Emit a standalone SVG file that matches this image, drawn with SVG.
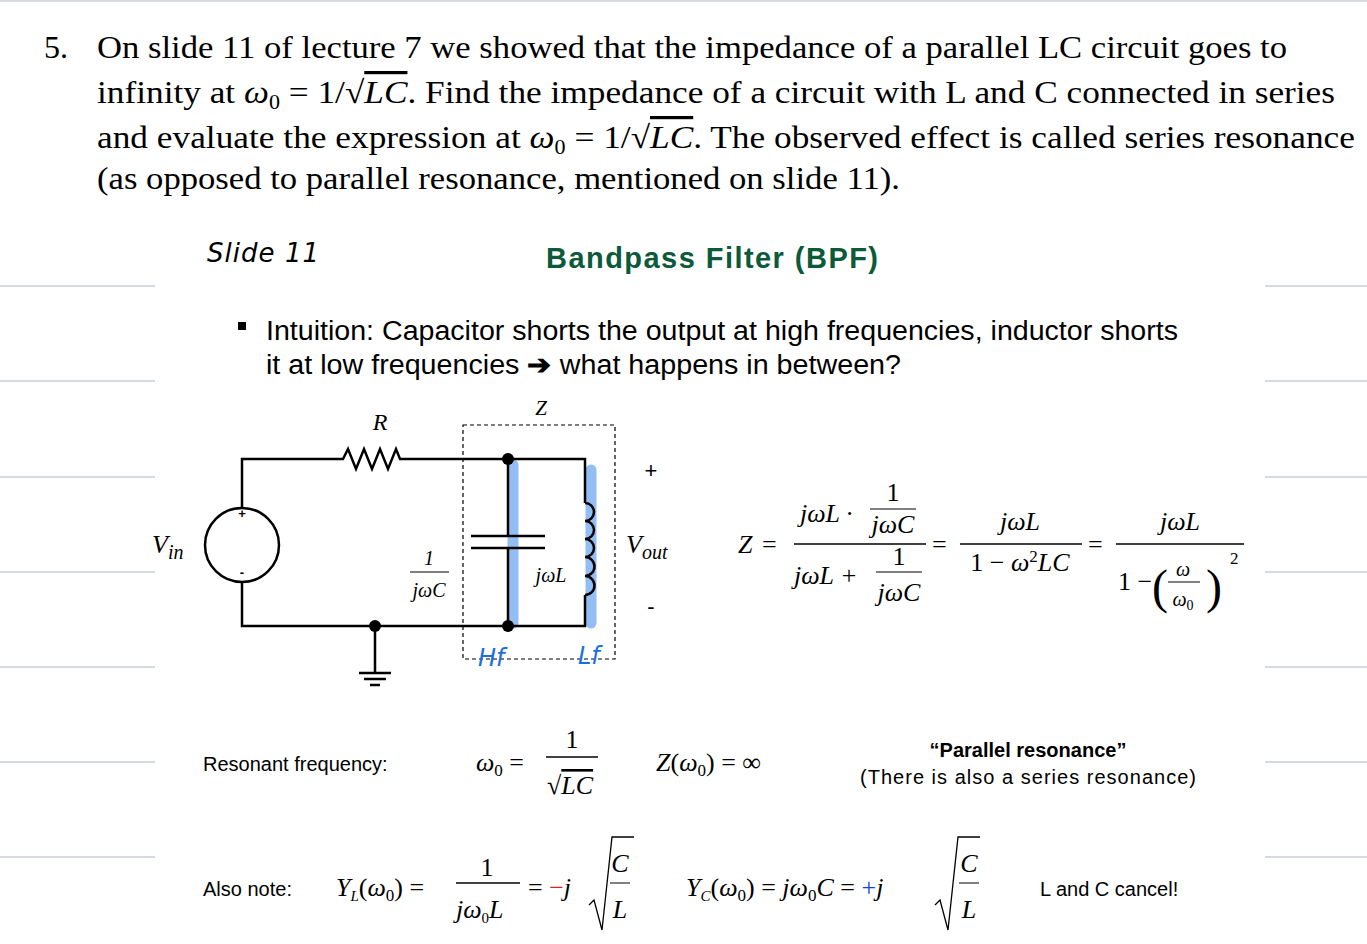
<svg xmlns="http://www.w3.org/2000/svg" width="1367" height="944" viewBox="0 0 1367 944">
<style>
.t{font-family:"Liberation Serif",serif;font-size:32px;fill:#000}
.m{font-family:"Liberation Serif",serif;font-style:italic;fill:#000}
.a{font-family:"Liberation Sans",Arial,sans-serif;fill:#000}
.w{stroke:#000;stroke-width:2.5;fill:none}
.g{stroke:#a9b6c6;stroke-width:1}
.hl{stroke:#6fa8f0;stroke-opacity:.75;stroke-width:11;stroke-linecap:round}
.hw{font-family:"Comic Sans MS","DejaVu Sans",sans-serif;font-style:italic}
</style>
<rect width="1367" height="944" fill="#fff"/>
<g id="rules">
<line class="g" x1="0" y1="1" x2="1367" y2="1"/>
<line class="g" x1="0" y1="286" x2="155" y2="286"/><line class="g" x1="1265" y1="286" x2="1367" y2="286"/>
<line class="g" x1="0" y1="381" x2="155" y2="381"/><line class="g" x1="1265" y1="381" x2="1367" y2="381"/>
<line class="g" x1="0" y1="477" x2="155" y2="477"/><line class="g" x1="1265" y1="477" x2="1367" y2="477"/>
<line class="g" x1="0" y1="572" x2="155" y2="572"/><line class="g" x1="1265" y1="572" x2="1367" y2="572"/>
<line class="g" x1="0" y1="667" x2="155" y2="667"/><line class="g" x1="1265" y1="667" x2="1367" y2="667"/>
<line class="g" x1="0" y1="762" x2="155" y2="762"/><line class="g" x1="1265" y1="762" x2="1367" y2="762"/>
<line class="g" x1="0" y1="857" x2="155" y2="857"/><line class="g" x1="1265" y1="857" x2="1367" y2="857"/>
</g>
<g id="question">
<text class="t" x="44" y="58">5.</text>
<text class="t" x="97" y="58" textLength="1190" lengthAdjust="spacingAndGlyphs">On slide 11 of lecture 7 we showed that the impedance of a parallel LC circuit goes to</text>
<text class="t" x="97" y="103" textLength="1238" lengthAdjust="spacingAndGlyphs">infinity at <tspan font-style="italic">ω</tspan><tspan font-size="20" dy="6">0</tspan><tspan dy="-6"> = 1/√<tspan font-style="italic" text-decoration="overline">LC</tspan>. Find the impedance of a circuit with L and C connected in series</tspan></text>
<text class="t" x="97" y="148" textLength="1258" lengthAdjust="spacingAndGlyphs">and evaluate the expression at <tspan font-style="italic">ω</tspan><tspan font-size="20" dy="6">0</tspan><tspan dy="-6"> = 1/√<tspan font-style="italic" text-decoration="overline">LC</tspan>. The observed effect is called series resonance</tspan></text>
<text class="t" x="97" y="189" textLength="803" lengthAdjust="spacingAndGlyphs">(as opposed to parallel resonance, mentioned on slide 11).</text>
</g>
<text class="hw" x="207" y="262" font-size="26" textLength="112">Slide 11</text>
<text class="a" x="712" y="268" font-size="29" font-weight="bold" text-anchor="middle" style="fill:#0b5a3a" textLength="332">Bandpass Filter (BPF)</text>
<rect x="238" y="322" width="8" height="8" fill="#000"/>
<text class="a" x="266" y="340" font-size="27" textLength="912" lengthAdjust="spacingAndGlyphs">Intuition: Capacitor shorts the output at high frequencies, inductor shorts</text>
<text class="a" x="266" y="374" font-size="27" textLength="635" lengthAdjust="spacingAndGlyphs">it at low frequencies <tspan font-weight="bold">➔</tspan> what happens in between?</text>
<g id="circuit">
<line class="hl" x1="513" y1="465" x2="513" y2="623"/>
<line class="hl" x1="591" y1="470" x2="591" y2="623"/>
<rect x="463" y="425" width="152" height="234" fill="none" stroke="#000" stroke-width="1.2" stroke-dasharray="4,3"/>
<path class="w" d="M242,508 V459 H343 l5,-10 l8,20 l8,-20 l8,20 l8,-20 l8,20 l8,-20 l4,10 H585 V503 M585,595 V626 H242 V582"/>
<circle class="w" cx="242" cy="545" r="37"/>
<path class="w" d="M585,503 a9,9 0 0 1 0,18 a9,9 0 0 1 0,18 a9,9 0 0 1 0,18 a9,9 0 0 1 0,19 a9,9 0 0 1 0,19"/>
<path class="w" d="M508,459 V536 M471,536 H545 M471,548 H545 M508,548 V626"/>
<path class="w" d="M375,626 V673 M359,673 H391 M364,679 H386 M370,685 H380"/>
<circle cx="508" cy="459" r="6"/><circle cx="508" cy="626" r="6"/><circle cx="375" cy="626" r="6"/>
<text class="a" x="242" y="518" font-size="13" text-anchor="middle" font-weight="bold">+</text>
<text class="a" x="242" y="577" font-size="13" text-anchor="middle" font-weight="bold">-</text>
<text class="m" x="380" y="430" font-size="24" text-anchor="middle">R</text>
<text class="m" x="541" y="415" font-size="21" text-anchor="middle">Z</text>
<text class="m" x="152" y="553" font-size="26">V<tspan font-size="20" dy="6">in</tspan></text>
<text class="m" x="626" y="553" font-size="26">V<tspan font-size="20" dy="6">out</tspan></text>
<text class="a" x="651" y="478" font-size="22" text-anchor="middle">+</text>
<text class="a" x="651" y="614" font-size="22" text-anchor="middle">-</text>
<text class="m" x="429" y="565" font-size="20" text-anchor="middle" font-style="normal">1</text>
<line x1="410" y1="572" x2="449" y2="572" stroke="#000"/>
<text class="m" x="429" y="597" font-size="20" text-anchor="middle">jωC</text>
<text class="m" x="551" y="582" font-size="20" text-anchor="middle">jωL</text>
<text class="hw" x="478" y="666" font-size="24" fill="#1a6fe0">Hf</text>
<text class="hw" x="578" y="664" font-size="24" fill="#1a6fe0">Lf</text>
</g>
<g id="formula" font-family="Liberation Serif,serif" font-size="26">
<text class="m" x="738" y="553">Z</text><text x="762" y="553">=</text>
<text class="m" x="800" y="522">jωL ·</text>
<text x="893" y="501" text-anchor="middle">1</text><line x1="870" y1="509" x2="916" y2="509" stroke="#000"/>
<text class="m" x="893" y="533" text-anchor="middle">jωC</text>
<line x1="794" y1="544" x2="926" y2="544" stroke="#000" stroke-width="1.3"/>
<text class="m" x="794" y="584">jωL +</text>
<text x="899" y="565" text-anchor="middle">1</text><line x1="876" y1="572" x2="922" y2="572" stroke="#000"/>
<text class="m" x="899" y="601" text-anchor="middle">jωC</text>
<text x="932" y="553">=</text>
<text class="m" x="1020" y="530" text-anchor="middle">jωL</text>
<line x1="960" y1="544" x2="1082" y2="544" stroke="#000" stroke-width="1.3"/>
<text x="1020" y="571" text-anchor="middle">1 − <tspan font-style="italic">ω</tspan><tspan font-size="17" dy="-9">2</tspan><tspan dy="9" font-style="italic">LC</tspan></text>
<text x="1088" y="553">=</text>
<text class="m" x="1180" y="530" text-anchor="middle">jωL</text>
<line x1="1116" y1="544" x2="1244" y2="544" stroke="#000" stroke-width="1.3"/>
<text x="1118" y="590">1 −</text>
<text font-size="48" x="1152" y="603" transform="scale(1,1)">(</text><text font-size="48" x="1206" y="603">)</text>
<text class="m" x="1183" y="576" text-anchor="middle" font-size="20">ω</text>
<line x1="1168" y1="582" x2="1200" y2="582" stroke="#000"/>
<text class="m" x="1183" y="606" text-anchor="middle" font-size="20">ω<tspan font-style="normal" font-size="14" dy="4">0</tspan></text>
<text x="1230" y="564" font-size="17">2</text>
</g>
<g id="resonance" font-family="Liberation Serif,serif" font-size="26">
<text class="a" x="203" y="771" font-size="20">Resonant frequency:</text>
<text class="m" x="476" y="771">ω<tspan font-style="normal" font-size="17" dy="5">0</tspan><tspan font-style="normal" dy="-5"> =</tspan></text>
<text x="572" y="748" text-anchor="middle">1</text>
<line x1="546" y1="757" x2="598" y2="757" stroke="#000" stroke-width="1.3"/>
<text x="547" y="794">√<tspan font-style="italic" text-decoration="overline">LC</tspan></text>
<text class="m" x="656" y="771">Z<tspan font-style="normal">(</tspan>ω<tspan font-style="normal" font-size="17" dy="5">0</tspan><tspan font-style="normal" dy="-5">) = ∞</tspan></text>
<text class="a" x="1028" y="757" font-size="20" font-weight="bold" text-anchor="middle">“Parallel resonance”</text>
<text class="a" x="1028" y="784" font-size="20" text-anchor="middle" textLength="336">(There is also a series resonance)</text>
</g>
<g id="note" font-family="Liberation Serif,serif" font-size="26">
<text class="a" x="203" y="896" font-size="20">Also note:</text>
<text class="m" x="336" y="896">Y<tspan font-size="15" dy="5">L</tspan><tspan font-style="normal" dy="-5">(</tspan>ω<tspan font-style="normal" font-size="17" dy="5">0</tspan><tspan font-style="normal" dy="-5">) =</tspan></text>
<text x="487" y="876" text-anchor="middle">1</text>
<line x1="456" y1="883" x2="520" y2="883" stroke="#000" stroke-width="1.3"/>
<text class="m" x="456" y="918">jω<tspan font-style="normal" font-size="15" dy="5">0</tspan><tspan dy="-5">L</tspan></text>
<text x="528" y="896">= <tspan fill="#e02020">−</tspan><tspan font-style="italic">j</tspan></text>
<path d="M589,905 l5,-5 l8,30 l10,-93 h22" fill="none" stroke="#000" stroke-width="1.3"/>
<text class="m" x="620" y="872" text-anchor="middle">C</text>
<line x1="610" y1="883" x2="630" y2="883" stroke="#000"/>
<text class="m" x="620" y="918" text-anchor="middle">L</text>
<text class="m" x="686" y="896">Y<tspan font-size="15" dy="5">C</tspan><tspan font-style="normal" dy="-5">(</tspan>ω<tspan font-style="normal" font-size="17" dy="5">0</tspan><tspan font-style="normal" dy="-5">) = </tspan>jω<tspan font-style="normal" font-size="17" dy="5">0</tspan><tspan dy="-5">C</tspan><tspan font-style="normal"> = </tspan><tspan font-style="normal" fill="#1a3fe0">+</tspan>j</text>
<path d="M935,905 l5,-5 l8,30 l10,-93 h22" fill="none" stroke="#000" stroke-width="1.3"/>
<text class="m" x="969" y="872" text-anchor="middle">C</text>
<line x1="959" y1="883" x2="979" y2="883" stroke="#000"/>
<text class="m" x="969" y="918" text-anchor="middle">L</text>
<text class="a" x="1040" y="896" font-size="20">L and C cancel!</text>
</g>
</svg>
